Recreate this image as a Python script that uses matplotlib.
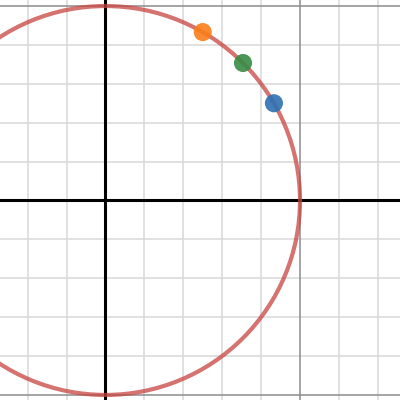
import matplotlib
matplotlib.use("Agg")
import matplotlib.pyplot as plt
from matplotlib.patches import Circle
import numpy as np

# unit circle and three points on it (30, 45, 60 degrees)
circle_center = (0.0, 0.0)
circle_radius = 1.0
point_x = [0.866, 0.707, 0.5]
point_y = [0.5, 0.707, 0.866]
point_colors = ['#2d70b3', '#388c46', '#fa7e19']

x_range = (-0.542, 1.514)
y_range = (-1.026, 1.031)

fig = plt.figure(figsize=(4, 4), dpi=100)
ax = fig.add_axes([0, 0, 1, 1])
ax.set_xlim(*x_range)
ax.set_ylim(*y_range)
ax.set_aspect('auto')

# grid: minor every 0.2, major every 1
minor = np.arange(-2, 2.01, 0.2)
for v in minor:
    v = round(v, 1)
    if abs(v - round(v)) < 1e-9:
        continue
    ax.axvline(v, color='#d9d9d9', lw=1.1, zorder=0)
    ax.axhline(v, color='#d9d9d9', lw=1.1, zorder=0)
for v in [-2, -1, 1, 2]:
    ax.axvline(v, color='#8c8c8c', lw=1.1, zorder=0)
    ax.axhline(v, color='#8c8c8c', lw=1.1, zorder=0)

# axes
ax.axhline(0, color='black', lw=2.2, zorder=1)
ax.axvline(0, color='black', lw=2.2, zorder=1)

ax.add_patch(Circle(circle_center, circle_radius, fill=False,
                    edgecolor='#c74440', alpha=0.75, lw=3, zorder=2))

ax.scatter(point_x, point_y, s=170, c=point_colors, alpha=0.9,
           edgecolors='none', zorder=3)

ax.set_xticks([])
ax.set_yticks([])
for s in ax.spines.values():
    s.set_visible(False)

plt.savefig('out.png', dpi=100)
